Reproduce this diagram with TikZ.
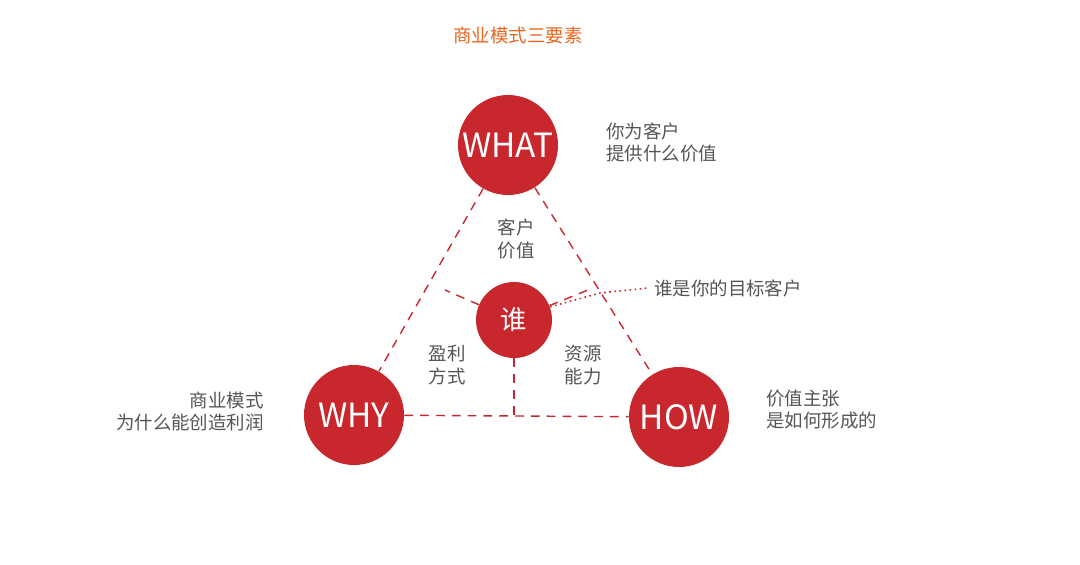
\documentclass[tikz,border=0pt]{standalone}
\usepackage{fontspec}
\setmainfont{Noto Sans CJK SC}
\usetikzlibrary{positioning, calc}
\definecolor{primary}{RGB}{200,40,45}
\definecolor{accent}{RGB}{235,100,30}
\definecolor{labelgray}{RGB}{85,85,85}
\tikzset{
  ball/.style={circle, fill=primary, minimum size=2cm, inner sep=0pt,
               text=white, font=\fontsize{19}{20}\selectfont},
  note/.style={text=labelgray, font=\fontsize{10.5}{13}\selectfont, align=left},
  link/.style={dashed, dash pattern=on 5pt off 4pt, color=primary, line width=0.8pt},
}
\begin{document}
\begin{tikzpicture}
        \useasboundingbox (0,0) rectangle (21.6,11.28);
        \node[text=accent, font=\fontsize{10.5}{12}\selectfont] (title) at (10.36,10.58) {商业模式三要素};

        \node[ball] (what) at (10.16,8.38) {WHAT};
        \node[ball] (why) at (7.08,2.98) {WHY};
        \node[ball] (how) at (13.58,2.94) {HOW};
        \node[ball, minimum size=1.52cm, font=\fontsize{15}{16}\selectfont] (who) at (10.28,4.88) {谁};

        % triangle
        \begin{scope}[on background layer/.style={}]
        \draw[link] (what) -- (why);
        \draw[link] (what) -- (how);
        \draw[link] (why) -- (how);
        \end{scope}
        % spokes
        \coordinate (lspoke) at (8.9,5.48);
        \coordinate (rspoke) at (11.76,5.48);
        \coordinate (bspoke) at (10.28,2.96);
        \draw[link] (who) -- (lspoke);
        \draw[link] (who) -- (rspoke);
        \draw[link] (who) -- (bspoke);

        % inner labels
        \node[note, align=center] (value) at (10.32,6.5) {客户\\价值};
        \node[note, align=center] (profit) at (8.94,3.98) {盈利\\方式};
        \node[note, align=center] (ability) at (11.66,3.98) {资源\\能力};

        % outer labels
        \node[note, anchor=west] (whatnote) at (12.0,8.43) {你为客户\\提供什么价值};
        \node[note, anchor=east, align=right] (whynote) at (5.4,3.05) {商业模式\\为什么能创造利润};
        \node[note, anchor=west] (hownote) at (15.2,3.09) {价值主张\\是如何形成的};
        \node[note, anchor=west] (whonote) at (12.96,5.52) {谁是你的目标客户};
        \draw[dotted, color=primary, line width=0.9pt]
          (who.20) -- (12.0,5.42) -- (whonote.west);
      \end{tikzpicture}
\end{document}
